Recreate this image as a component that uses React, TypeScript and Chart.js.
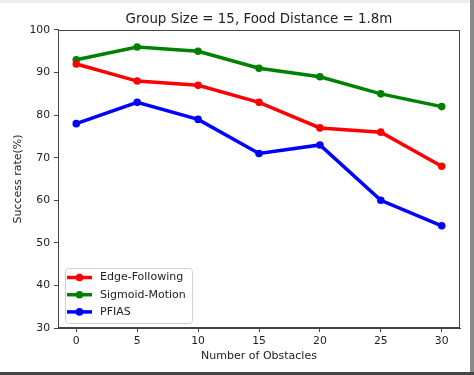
import React, { useEffect, useRef } from 'react';
import { Chart, registerables } from 'chart.js';

Chart.register(...registerables);

const obstacles = [0, 5, 10, 15, 20, 25, 30];
const edgeFollowing = [92, 88, 87, 83, 77, 76, 68];
const sigmoidMotion = [93, 96, 95, 91, 89, 85, 82];
const pfias = [78, 83, 79, 71, 73, 60, 54];
const xTickValues = [0, 5, 10, 15, 20, 25, 30];
const yTickValues = [30, 40, 50, 60, 70, 80, 90, 100];
const seriesNames = ['Edge-Following', 'Sigmoid-Motion', 'PFIAS'];
const seriesColors = ['#ff0000', '#008000', '#0000ff'];
const chartTitle = 'Group Size = 15, Food Distance = 1.8m';
const xTitle = 'Number of Obstacles';
const yTitle = 'Success rate(%)';

const FONT = '"DejaVu Sans", sans-serif';
const TEXT = '#222222';
const AXIS = '#444444';

const framePlugin = {
  id: 'frame',
  afterDraw(chart: any) {
    const { ctx, chartArea } = chart;
    ctx.save();
    ctx.strokeStyle = AXIS;
    ctx.lineWidth = 1;
    ctx.strokeRect(
      Math.round(chartArea.left) + 0.5,
      Math.round(chartArea.top) + 0.5,
      Math.round(chartArea.right - chartArea.left) - 1,
      Math.round(chartArea.bottom - chartArea.top) - 1
    );
    ctx.restore();
  },
};

const innerLegendPlugin = {
  id: 'innerLegend',
  afterDatasetsDraw(chart: any) {
    const { ctx, chartArea } = chart;
    const w = 127;
    const h = 55;
    const x0 = chartArea.left + 7;
    const y0 = chartArea.bottom - 5 - h;
    ctx.save();
    ctx.beginPath();
    ctx.roundRect(x0 + 0.5, y0 + 0.5, w, h, 3);
    ctx.fillStyle = 'rgba(255,255,255,0.85)';
    ctx.fill();
    ctx.strokeStyle = '#d0d0d0';
    ctx.lineWidth = 1;
    ctx.stroke();
    chart.data.datasets.forEach((ds: any, i: number) => {
      const cy = y0 + 9.5 + i * 17.2;
      ctx.strokeStyle = ds.borderColor;
      ctx.lineWidth = 3.5;
      ctx.beginPath();
      ctx.moveTo(x0 + 2, cy);
      ctx.lineTo(x0 + 27, cy);
      ctx.stroke();
      ctx.beginPath();
      ctx.arc(x0 + 14.5, cy, 3.8, 0, Math.PI * 2);
      ctx.fillStyle = ds.borderColor;
      ctx.fill();
      ctx.fillStyle = TEXT;
      ctx.font = `11px ${FONT}`;
      ctx.textBaseline = 'middle';
      ctx.textAlign = 'left';
      ctx.fillText(ds.label, x0 + 35, cy);
    });
    ctx.restore();
  },
};

export default function App() {
  const canvasRef = useRef<HTMLCanvasElement | null>(null);

  useEffect(() => {
    if (!canvasRef.current) return;
    const seriesValues = [edgeFollowing, sigmoidMotion, pfias];
    const chart = new Chart(canvasRef.current, {
      type: 'line',
      data: {
        datasets: seriesValues.map((vals, i) => ({
          label: seriesNames[i],
          data: vals.map((v, j) => ({ x: obstacles[j], y: v })),
          borderColor: seriesColors[i],
          backgroundColor: seriesColors[i],
          pointBackgroundColor: seriesColors[i],
          pointBorderColor: seriesColors[i],
          pointBorderWidth: 0,
          pointRadius: 3.8,
          borderWidth: 3.5,
          tension: 0,
          fill: false,
        })),
      },
      plugins: [innerLegendPlugin, framePlugin],
      options: {
        animation: false,
        responsive: false,
        devicePixelRatio: 1,
        events: [],
        layout: { padding: { left: 0, right: 14, top: 0, bottom: 0 } },
        plugins: {
          legend: { display: false },
          tooltip: { enabled: false },
          title: {
            display: true,
            text: chartTitle,
            fullSize: false,
            color: TEXT,
            font: { family: FONT, size: 13.4, weight: 'normal' },
            padding: { top: 11.5, bottom: 2.4 },
          },
        },
        scales: {
          x: {
            type: 'linear',
            min: -1.5,
            max: 31.5,
            afterFit: (scale: any) => {
              scale.height = 47;
            },
            afterBuildTicks: (scale: any) => {
              scale.ticks = xTickValues.map((v) => ({ value: v }));
            },
            ticks: {
              color: TEXT,
              font: { family: FONT, size: 10.8 },
              padding: 2.5,
              maxRotation: 0,
              autoSkip: false,
            },
            grid: {
              drawOnChartArea: false,
              color: AXIS,
              tickColor: AXIS,
              tickLength: 4,
            },
            border: { display: true, color: AXIS },
            title: {
              display: true,
              text: xTitle,
              color: TEXT,
              font: { family: FONT, size: 11 },
              padding: { top: 0, bottom: 12.4 },
            },
          },
          y: {
            type: 'linear',
            min: 30,
            max: 100,
            afterFit: (scale: any) => {
              scale.width = 58;
            },
            afterBuildTicks: (scale: any) => {
              scale.ticks = yTickValues.map((v) => ({ value: v }));
            },
            ticks: {
              color: TEXT,
              font: { family: FONT, size: 10.8 },
              padding: 4,
              autoSkip: false,
            },
            grid: {
              drawOnChartArea: false,
              color: AXIS,
              tickColor: AXIS,
              tickLength: 4,
            },
            border: { display: true, color: AXIS },
            title: {
              display: true,
              text: yTitle,
              color: TEXT,
              font: { family: FONT, size: 11 },
              padding: { top: 11.9, bottom: 0 },
            },
          },
        },
      },
    } as any);
    return () => chart.destroy();
  }, []);

  return (
    <div style={{ position: 'fixed', left: 0, top: 0, width: 474, height: 375, background: '#ffffff', overflow: 'hidden' }}>
      <canvas ref={canvasRef} width={474} height={375} style={{ display: 'block', width: 474, height: 375 }} />
      <div style={{ position: 'absolute', left: 0, top: 0, width: 474, height: 3, background: '#eeeeee' }} />
      <div style={{ position: 'absolute', right: 0, top: 0, width: 4, height: 375, background: '#8a8a8a' }} />
      <div style={{ position: 'absolute', left: 0, bottom: 0, width: 474, height: 3, background: '#444444' }} />
    </div>
  );
}
